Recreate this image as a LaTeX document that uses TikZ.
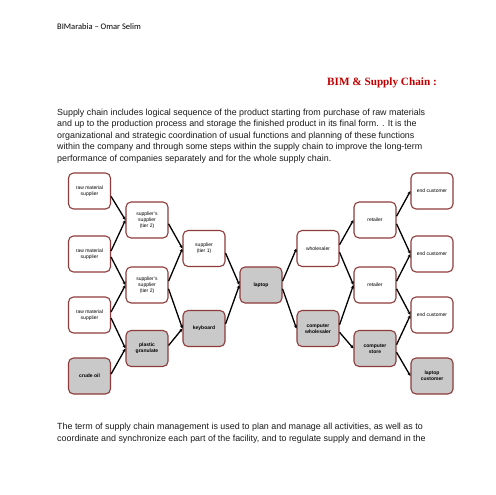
\documentclass[tikz,border=0pt]{standalone}
\usepackage{fontspec}
\setmainfont{Liberation Sans}
\newfontfamily\calibri{Carlito}
\newfontfamily\timesf{Liberation Serif}
\usetikzlibrary{arrows.meta}
\definecolor{boxred}{HTML}{8E3B3B}
\definecolor{boxgray}{HTML}{C9C9C9}
\definecolor{titlered}{HTML}{C00000}
\definecolor{bodytext}{HTML}{1A1A1A}
\begin{document}
\begin{tikzpicture}[x=1pt,y=-1pt,
  box/.style={draw=boxred, line width=1.1pt, rounded corners=5pt, minimum width=42pt, minimum height=36pt, inner sep=0pt, align=center, font=\fontsize{5}{5.8}\selectfont, fill=white},
  gbox/.style={box, fill=boxgray, font=\fontsize{5}{5.8}\selectfont\bfseries},
  link/.style={-{Stealth[length=3.5pt,width=3.2pt]}, line width=1.3pt, black},
  para/.style={anchor=north west, align=left, inner sep=0pt, text=bodytext, font=\fontsize{8.9}{11.6}\selectfont}]
\useasboundingbox (0,0) rectangle (495,495);
\fill[white] (0,0) rectangle (495,495);

\node[anchor=west, inner sep=0pt, font=\calibri\fontsize{8.5}{10}\selectfont] (hdr) at (57,27) {BIMarabia – Omar Selim};
\node[font=\timesf\bfseries\fontsize{11.2}{13}\selectfont, text=titlered] (title) at (382,83) {BIM \& Supply Chain :};

\node[para] (p1) at (57,108.5) {Supply chain includes logical sequence of the product starting from purchase of raw materials\\
and up to the production process and storage the finished product in its final form. . It is the\\
organizational and strategic coordination of usual functions and planning of these functions\\
within the company and through some steps within the supply chain to improve the long-term\\
performance of companies separately and for the whole supply chain.};

\node[para, font=\fontsize{8.9}{12}\selectfont] (p2) at (57,423) {The term of supply chain management is used to plan and manage all activities, as well as to\\
coordinate and synchronize each part of the facility, and to regulate supply and demand in the};

% column 1
\node[box] (raw1) at (89.5,191) {raw material\\supplier};
\node[box] (raw2) at (89.5,254) {raw material\\supplier};
\node[box] (raw3) at (89.5,315) {raw material\\supplier};
\node[gbox] (crude) at (89.5,376) {crude oil};
% column 2
\node[box] (ss1) at (147,220) {supplier's\\supplier\\(tier 2)};
\node[box] (ss2) at (147,285) {supplier's\\supplier\\(tier 2)};
\node[gbox] (plastic) at (147,348.5) {plastic\\granulate};
% column 3
\node[box] (tier1) at (204,248.5) {supplier\\(tier 1)};
\node[gbox] (keyb) at (204,328.5) {keyboard};
% column 4
\node[gbox] (laptop) at (261,285) {laptop};
% column 5
\node[box] (whole) at (318,248.5) {wholesaler};
\node[gbox] (cwhole) at (318,328.5) {computer\\wholesaler};
% column 6
\node[box] (ret1) at (375,220) {retailer};
\node[box] (ret2) at (375,285) {retailer};
\node[gbox] (store) at (375,348.5) {computer\\store};
% column 7
\node[box] (end1) at (432,191) {end customer};
\node[box] (end2) at (432,254) {end customer};
\node[box] (end3) at (432,315) {end customer};
\node[gbox] (lcust) at (432,376) {laptop\\customer};

% connectors
\draw[link] (raw1.-14) -- (ss1.west);
\draw[link] (raw2.8) -- (ss1.west);
\draw[link] (raw2.-8) -- (ss2.west);
\draw[link] (raw3.8) -- (ss2.west);
\draw[link] (raw3.-8) -- (plastic.west);
\draw[link] (crude.5) -- (plastic.west);
\draw[link] (ss1.-10) -- (tier1.west);
\draw[link] (ss2.10) -- (tier1.west);
\draw[link] (ss2.-10) -- (keyb.west);
\draw[link] (plastic.8) -- (keyb.west);
\draw[link] (tier1.-12) -- (laptop.west);
\draw[link] (keyb.12) -- (laptop.west);
\draw[link] (laptop.10) -- (whole.west);
\draw[link] (laptop.-10) -- (cwhole.west);
\draw[link] (whole.10) -- (ret1.west);
\draw[link] (whole.-10) -- (ret2.west);
\draw[link] (cwhole.10) -- (ret2.west);
\draw[link] (cwhole.-10) -- (store.west);
\draw[link] (ret1.10) -- (end1.west);
\draw[link] (ret1.-10) -- (end2.west);
\draw[link] (ret2.10) -- (end2.west);
\draw[link] (ret2.-10) -- (end3.west);
\draw[link] (store.10) -- (end3.west);
\draw[link] (store.-10) -- (lcust.west);
\end{tikzpicture}
\end{document}
